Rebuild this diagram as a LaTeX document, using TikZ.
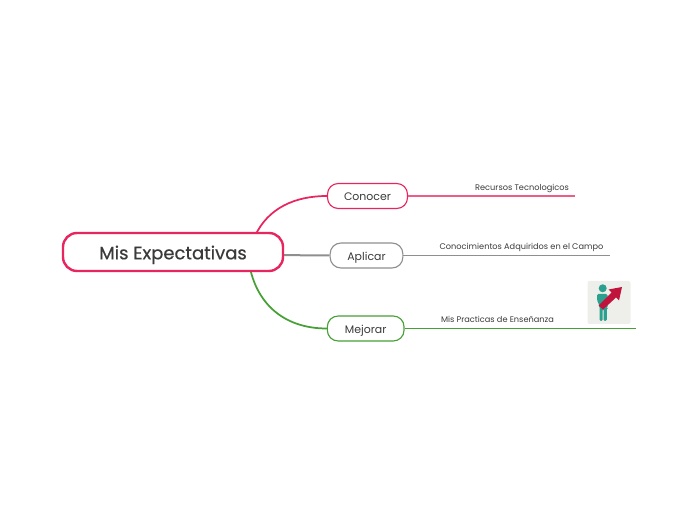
\documentclass[tikz,border=0pt]{standalone}
\usepackage{fontspec}
\setmainfont{Poppins}
\newfontfamily\rootfont[FakeBold=0.5]{Poppins}
\definecolor{pinkc}{HTML}{E8255F}
\definecolor{pinkl}{HTML}{EE5C88}
\definecolor{greyc}{HTML}{8F8F8F}
\definecolor{greenc}{HTML}{45A035}
\definecolor{inkc}{HTML}{3A3A3A}
\definecolor{iconbg}{HTML}{EEEEEA}
\definecolor{teal}{HTML}{2BA08F}
\definecolor{redc}{HTML}{C0143C}
\tikzset{
  x=0.75pt,y=-0.75pt,
  rootbox/.style={draw=pinkc,line width=1.8pt,fill=white,rounded corners=10.5pt,minimum width=165pt,minimum height=28.5pt,inner sep=0pt,text=inkc,text height=12pt,text depth=1pt,font=\rootfont\fontsize{13.5}{16}\selectfont},
  childbox/.style={draw=#1,line width=0.85pt,fill=white,rounded corners=8pt,minimum height=18.7pt,inner sep=0pt,text=inkc,text height=7.5pt,text depth=0.7pt,font=\fontsize{8.2}{10}\selectfont},
  leaflabel/.style={inner sep=0pt,anchor=base,text=inkc,font=\fontsize{6.15}{8}\selectfont},
  link/.style={draw=#1,line width=1.3pt},
  leafline/.style={draw=#1,line width=0.9pt}
}
\begin{document}
\begin{tikzpicture}
\useasboundingbox (0,0) rectangle (697,520);
% links are drawn first, the boxes cover their ends
\coordinate (rc) at (255,236);
\coordinate (rm) at (250,268);
\coordinate (lc) at (575,196);
\coordinate (la) at (610,255.5);
\coordinate (lm) at (636,328.5);
\node[childbox=pinkc,minimum width=60pt] (conocer) at (367.5,196) {Conocer};
\node[childbox=greyc,minimum width=54.5pt] (aplicar) at (366.5,255.5) {Aplicar};
\node[childbox=greenc,minimum width=57.5pt] (mejorar) at (365.7,328.5) {Mejorar};
\draw[leafline=pinkl] (conocer.east) -- (lc);
\draw[leafline=greyc] (aplicar.east) -- (la);
\draw[leafline=greenc] (mejorar.east) -- (lm);
\draw[link=pinkc] (rc) .. controls (268,208) and (295,196) .. (conocer.west);
\draw[link=greyc,line width=1.5pt] (270,255) -- (aplicar.west);
\draw[link=greenc] (rm) .. controls (258,305) and (285,328.5) .. (mejorar.west);
\node[rootbox] (root) at (173,252) {Mis Expectativas};
\node[leaflabel] (t1) at (522,191) {Recursos Tecnologicos};
\node[leaflabel] (t2) at (521.5,250) {Conocimientos Adquiridos en el Campo};
\node[leaflabel] (t3) at (497.5,323) {Mis Practicas de Enseñanza};
% icon
\fill[iconbg,rounded corners=1.5pt] (587.5,281) rectangle (630.5,324);
\fill[teal] (602.7,288.3) circle[radius=4];
\fill[teal,rounded corners=1pt] (597,294) -- (607.5,294) -- (607.5,308) -- (606.8,308) -- (606.8,321) -- (603.6,321) -- (603.6,309) -- (602.6,309) -- (602.6,321) -- (599.5,321) -- (599.5,306) -- (597,300) -- cycle;
\fill[redc] (598.5,305.5) -- (611.5,292.5) -- (608.5,289.5) -- (622,287) -- (619,300.5) -- (616,297.5) -- (603,309.5) -- cycle;
\end{tikzpicture}
\end{document}
